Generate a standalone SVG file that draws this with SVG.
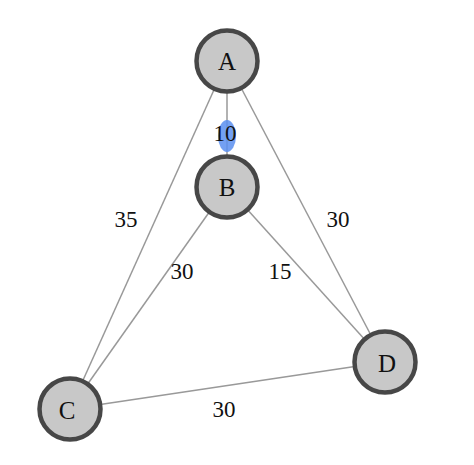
<svg xmlns="http://www.w3.org/2000/svg" width="474" height="465" viewBox="0 0 474 465">
<style>
.edge{stroke:#999;stroke-width:1.5;fill:none}
.node circle{fill:#c8c8c8;stroke:#474747;stroke-width:4.5}
.lbl{font-family:"Liberation Serif",serif;font-size:23px;fill:#111;text-anchor:middle}
.nl{font-family:"Liberation Serif",serif;font-size:25px;fill:#111;text-anchor:middle}
</style>
<rect width="474" height="465" fill="#fff"/>
<g id="connectors">
<line class="edge" x1="227" y1="61" x2="227" y2="187"/>
<line class="edge" x1="227" y1="61" x2="70" y2="409"/>
<line class="edge" x1="227" y1="61" x2="385" y2="362"/>
<line class="edge" x1="227" y1="187" x2="70" y2="409"/>
<line class="edge" x1="227" y1="187" x2="385" y2="362"/>
<line class="edge" x1="70" y1="409" x2="385" y2="362"/>
<ellipse cx="227" cy="136" rx="9" ry="16" fill="#5b8ff0" fill-opacity="0.85"/>
<text class="lbl" x="225" y="141">10</text>
<text class="lbl" x="126" y="227">35</text>
<text class="lbl" x="338" y="227">30</text>
<text class="lbl" x="182" y="279">30</text>
<text class="lbl" x="280" y="279">15</text>
<text class="lbl" x="224" y="417">30</text>
</g>
<g id="A" class="node"><circle cx="227" cy="61" r="30.5"/><text class="nl" x="227" y="70">A</text></g>
<g id="B" class="node"><circle cx="227" cy="187" r="30.5"/><text class="nl" x="227" y="196">B</text></g>
<g id="C" class="node"><circle cx="70" cy="409" r="30.5"/><text class="nl" x="67" y="419">C</text></g>
<g id="D" class="node"><circle cx="385" cy="362" r="30.5"/><text class="nl" x="387" y="372">D</text></g>
</svg>
